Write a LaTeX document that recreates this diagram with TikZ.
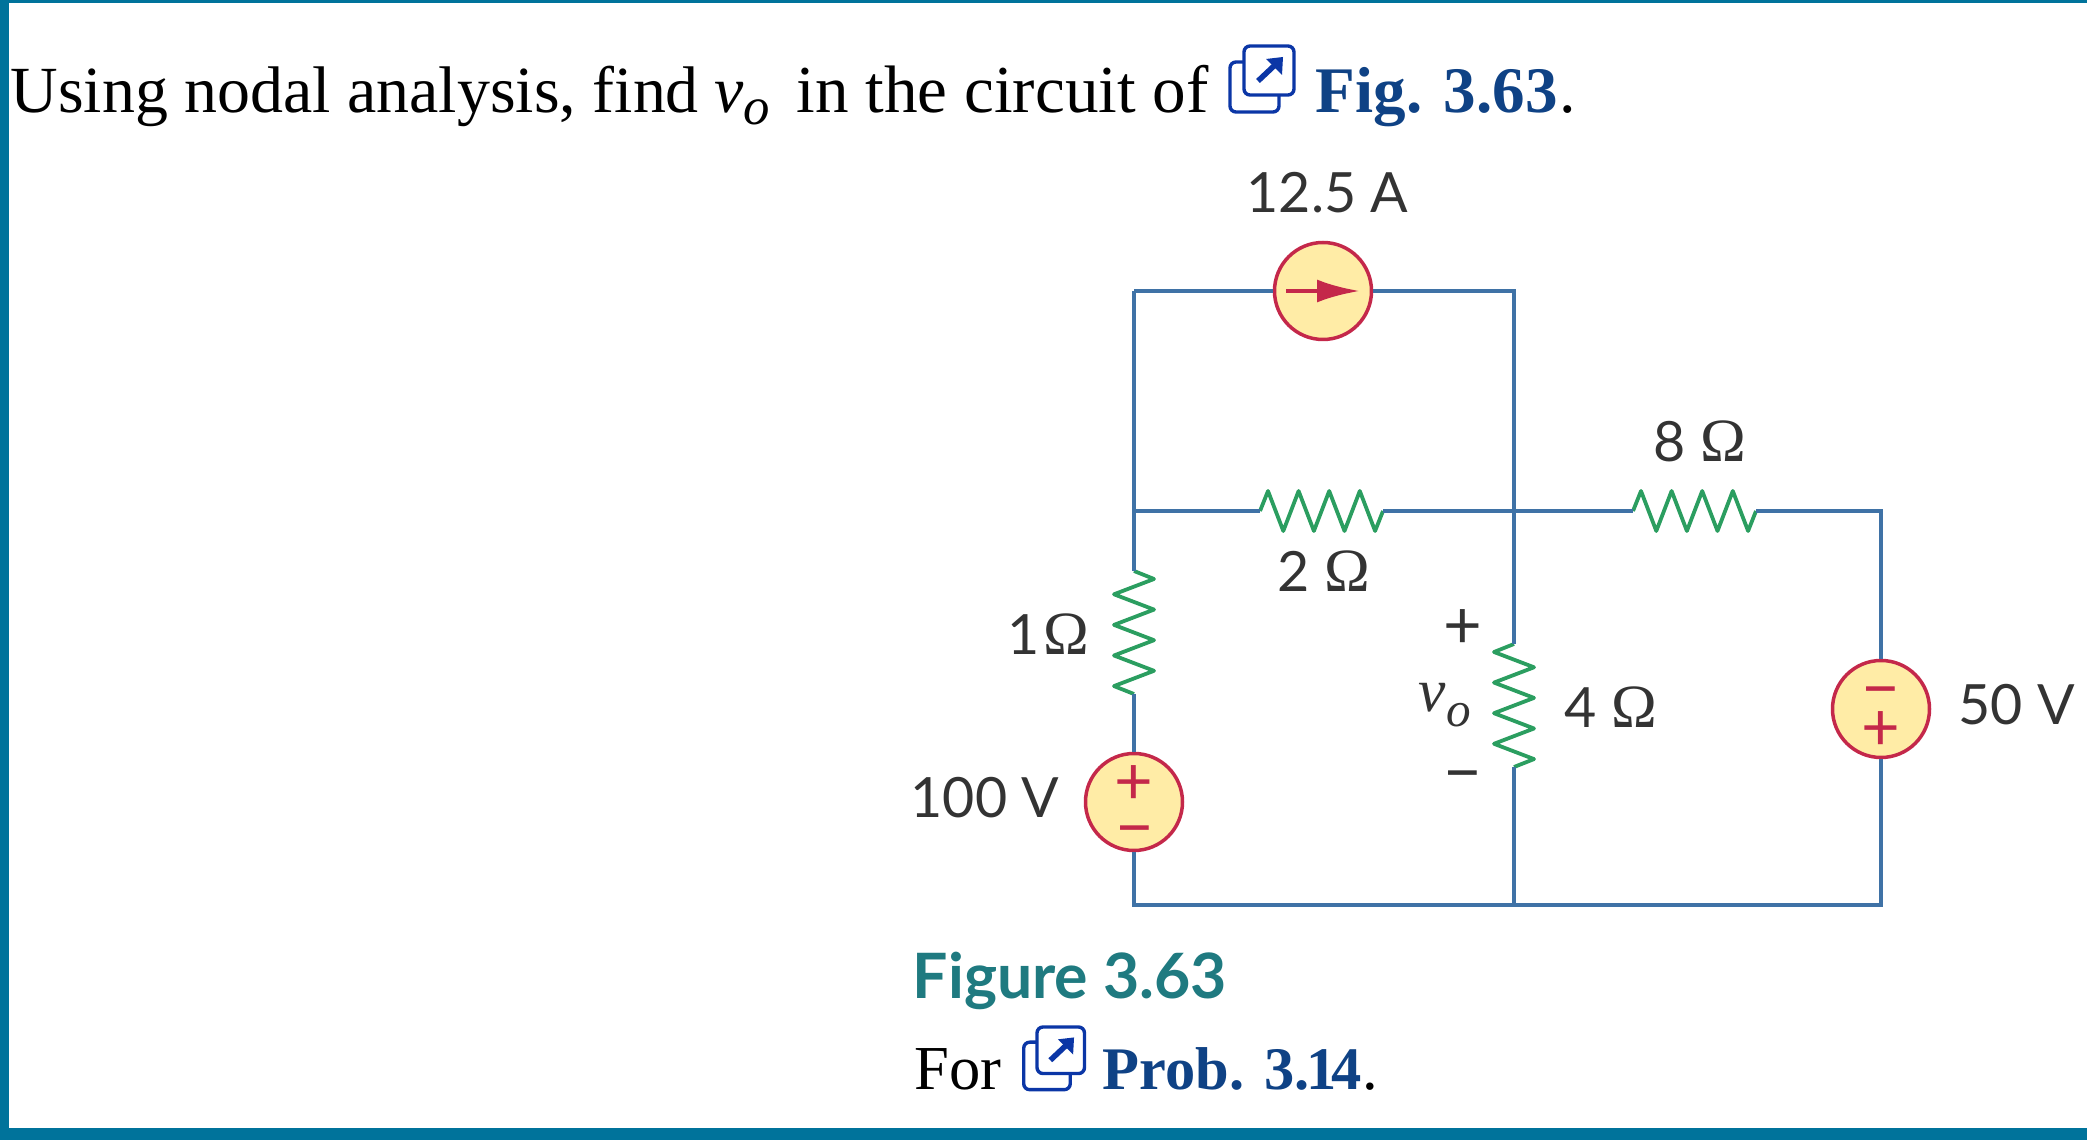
\documentclass[tikz,border=0pt]{standalone}
\usepackage{fontspec}
\setmainfont{Lato}
\newfontfamily\bookserif{Liberation Serif}
\usetikzlibrary{arrows.meta}

\definecolor{barblue}{HTML}{00739B}
\definecolor{wireblue}{HTML}{3F72A6}
\definecolor{resgreen}{HTML}{2B9E60}
\definecolor{srcred}{HTML}{C4284A}
\definecolor{srcfill}{HTML}{FFECA6}
\definecolor{labelgray}{HTML}{333333}
\definecolor{linknavy}{HTML}{0F4285}
\definecolor{iconblue}{HTML}{0B36A6}
\definecolor{figteal}{HTML}{1F7A80}

\tikzset{
	wire/.style={draw=wireblue, line width=0.36mm},
	res/.style={draw=resgreen, line width=0.38mm, line join=round},
	src/.style={circle, draw=srcred, fill=srcfill, line width=0.35mm, minimum size=9.7mm, inner sep=0pt},
	sign/.style={inner sep=0pt, text=srcred, font=\fontsize{19}{19}\selectfont},
	lab/.style={inner sep=0pt, anchor=base west, text=labelgray, font=\fontsize{15.8}{16}\selectfont},
	polar/.style={inner sep=0pt, text=labelgray, font=\fontsize{19}{19}\selectfont},
	book/.style={inner sep=0pt, anchor=base west, font=\bookserif\fontsize{18.75}{20}\selectfont},
	link/.style={book, text=linknavy, font=\bookserif\bfseries\fontsize{18.5}{20}\selectfont},
}
\newcommand\ohm{{\bookserif\fontsize{17.5}{17}\selectfont Ω}}

\begin{document}
\begin{tikzpicture}[x=0.1mm, y=-0.1mm]
		\newcommand\hres[3]{ %% argument 1: name, argument 2: left x, argument 3: y
			\coordinate (#1-w) at (#2,#3);
			\coordinate (#1-e) at (#2+123,#3);
			\draw[res] (#1-w) -- ++(8,-20) -- ++(15.3,40) -- ++(15.3,-40) -- ++(15.3,40) -- ++(15.3,-40) -- ++(15.3,40) -- ++(15.3,-40) -- ++(15.3,40) -- (#1-e);
		}
		\newcommand\vres[4]{ %% argument 1: name, argument 2: x, argument 3: top y, argument 4: side of first bend
			\coordinate (#1-n) at (#2,#3);
			\coordinate (#1-s) at (#2,#3+123);
			\draw[res] (#1-n) -- ++(#4*20,8) -- ++(-#4*40,15.3) -- ++(#4*40,15.3) -- ++(-#4*40,15.3) -- ++(#4*40,15.3) -- ++(-#4*40,15.3) -- ++(#4*40,15.3) -- ++(-#4*40,15.3) -- (#1-s);
		}
		\newcommand\popicon[3]{ %% argument 1: x of front box, argument 2: y of front box, argument 3: scale
			\begin{scope}[shift={(#1,#2)}, scale=#3]
				\draw[iconblue, line width=0.34mm, rounded corners=0.6mm] (-14,16) rectangle ++(49,50);
				\draw[iconblue, fill=white, line width=0.34mm, rounded corners=0.6mm] (0,0) rectangle ++(50,49);
				\draw[iconblue, line width=0.55mm] (14,35) -- (31,19);
				\fill[iconblue] (39,11) -- (22,13) -- (38,29) -- cycle;
			\end{scope}
		}

		%% frame
		\useasboundingbox (0,0) rectangle (2087,1140);
		\fill[barblue] (0,0) rectangle (2087,3);
		\fill[barblue] (0,0) rectangle (9,1128);
		\fill[barblue] (0,1128) rectangle (2087,1140);

		%% question line
		\node[book] (qtext) at (10,113) {Using nodal analysis, find};
		\node[book] (qvar) at (714,113) {\itshape v\raisebox{-3.2pt}{\fontsize{15}{15}\selectfont o}};
		\node[book, font=\bookserif\fontsize{19.1}{20}\selectfont] (qrest) at (796,113) {in the circuit of};
		\popicon{1244}{46}{1}
		\node[link] (qlink) at (1315,113) {Fig. 3.63};
		\node[book] (qdot) at (qlink.base east) {.};

		%% corners and junctions
		\coordinate (tl) at (1134,291);
		\coordinate (tr) at (1514,291);
		\coordinate (ml) at (1134,511);
		\coordinate (mm) at (1514,511);
		\coordinate (mr) at (1881,511);
		\coordinate (bl) at (1134,905);
		\coordinate (bm) at (1514,905);
		\coordinate (br) at (1881,905);

		\node[src] (isrc) at (1323,291) {};
		\node[src] (vsleft) at (1134,802) {};
		\node[src] (vsright) at (1881,709) {};

		\hres{rtwo}{1260}{511}
		\hres{reight}{1633}{511}
		\vres{rone}{1134}{571}{1}
		\vres{rfour}{1514}{644}{-1}

		\draw[wire] (tl) -- (isrc);
		\draw[wire] (isrc) -- (tr) -- (rfour-n);
		\draw[wire] (rfour-s) -- (bm);
		\draw[wire] (tl) -- (rone-n);
		\draw[wire] (ml) -- (rtwo-w);
		\draw[wire] (rtwo-e) -- (mm) -- (reight-w);
		\draw[wire] (reight-e) -- (mr) -- (vsright);
		\draw[wire] (rone-s) -- (vsleft);
		\draw[wire] (vsleft) -- (bl) -- (bm) -- (br) -- (vsright);

		%% source marks
		\coordinate (itail) at (1286,291);
		\coordinate (itip) at (1360,291);
		\draw[srcred, line width=0.45mm, -{Latex[length=4.3mm, width=2.3mm]}] (itail) -- (itip);
		\node[sign] (lplus) at (1134,785) {+};
		\node[sign] (lminus) at (1135,838) {−};
		\node[sign] (rminus) at (1881,699) {−};
		\node[sign] (rplus) at (1881,731) {+};

		%% labels
		\node[lab] (lcur) at (1246,213) {12.5 A};
		\node[lab] (leight) at (1653,462) {8 \ohm};
		\node[lab] (ltwo) at (1277,592) {2 \ohm};
		\node[lab] (lone) at (1007,655) {1\hspace{-2.9pt} \ohm};
		\node[lab] (lfour) at (1564,728) {4 \ohm};
		\node[lab] (lhundred) at (910,818) {100 V};
		\node[lab] (lfifty) at (1958,725) {50 V};
		\node[polar] (vplus) at (1463,629) {+};
		\node[polar] (vminus) at (1463,783) {−};
		\node[lab] (lvo) at (1418,712) {\bookserif\itshape\fontsize{17.5}{17}\selectfont v\raisebox{-4pt}{\fontsize{14}{14}\selectfont o}};

		%% caption
		\node[inner sep=0pt, anchor=base west, text=figteal, font=\bfseries\fontsize{17.8}{18}\selectfont] (capfig) at (912,999) {Figure 3.63};
		\node[book, font=\bookserif\fontsize{17.8}{18}\selectfont] (capfor) at (914,1090) {For};
		\popicon{1037}{1027}{0.95}
		\node[link, font=\bookserif\bfseries\fontsize{17.2}{18}\selectfont] (caplink) at (1102,1090) {Prob. 3.\kern-1pt1\kern-1.5pt 4};
		\node[book, font=\bookserif\fontsize{17.8}{18}\selectfont] (capdot) at (caplink.base east) {.};
	\end{tikzpicture}
\end{document}
